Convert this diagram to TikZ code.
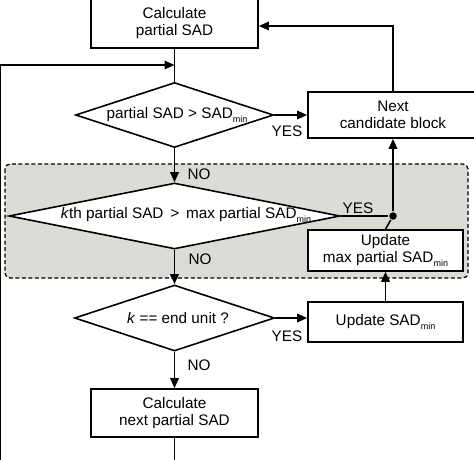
\documentclass[tikz,border=0pt]{standalone}
\usepackage{fontspec}
\setmainfont{Liberation Sans}
\usetikzlibrary{shapes.geometric,arrows.meta,calc}
\definecolor{grayfill}{HTML}{DCDCD7}
\newcommand\fs{\fontsize{15.3}{17}\selectfont}
\newcommand\sbm[1]{\raisebox{-0.45ex}{\fontsize{9}{9}\selectfont #1}}
\begin{document}
\begin{tikzpicture}[x=1pt,y=-1pt,line width=1.6pt,
  box/.style={draw,fill=white,rectangle,inner sep=0pt,align=center,font=\fs},
  dec/.style={draw,fill=white,diamond,inner sep=0pt},
  txt/.style={font=\fs,inner sep=0pt,align=center},
  lab/.style={font=\fs,inner sep=0pt},
  arr/.style={-{Triangle[length=10pt,width=8.5pt]}},
  group/.style={draw,fill=grayfill,dash pattern=on 4pt off 2.5pt,rounded corners=5pt,line width=1.3pt}]
\useasboundingbox (0,0) rectangle (474,460);
\draw[group] (5,164) rectangle (468,278);
% boxes
\node[box,minimum width=167pt,minimum height=50pt] (calc) at (174.5,23) {Calculate\\partial SAD};
\node[box,minimum width=170pt,minimum height=46pt] (next) at (393,115) {Next\\candidate block};
\node[box,minimum width=155pt,minimum height=41pt] (umax) at (385.5,250.5) {Update\\max partial SAD\sbm{min}};
\node[box,minimum width=155pt,minimum height=40pt] (umin) at (385.5,322) {Update SAD\sbm{min}};
\node[box,minimum width=167pt,minimum height=48pt] (calcn) at (174.5,413) {Calculate\\next partial SAD};
% decisions
\node[dec,minimum width=198pt,minimum height=65pt] (d1) at (174.5,115) {};
\node[txt] (t1) at (177,115) {partial SAD > SAD\sbm{min}};
\node[dec,minimum width=331pt,minimum height=66pt] (d2) at (174.5,216) {};
\node[txt] (t2) at (186,215) {\textit{k}th partial SAD\, > \,max partial SAD\sbm{min}};
\node[dec,minimum width=200pt,minimum height=66pt] (d3) at (174.5,318) {};
\node[txt] (t3) at (178,318) {\textit{k} == end unit ?};
% junctions
\node[circle,fill,inner sep=0pt,minimum size=7.5pt] (dot) at (393,216) {};
\coordinate (j1) at (174.5,65);
\coordinate (lb) at (0,480);
\coordinate (lt) at (0,65);
\coordinate (tr) at (393,26);
% connectors
\draw (calc.south) -- (d1.north);
\draw[arr] (calcn.south) |- (lb) -- (lt) -- (j1);
\draw[arr] (d1.east) -- (next.west);
\draw[arr] (d1.south) -- (d2.north);
\draw (d2.east) -- (dot);
\draw[arr] (dot) -- (next.south);
\draw (dot) -- (umax.north);
\draw[arr] (umin.north) -- (umax.south);
\draw[arr] (d2.south) -- (d3.north);
\draw[arr] (d3.east) -- (d3.east -| umin.west);
\draw[arr] (d3.south) -- (calcn.north);
\draw[arr] (next.north) -- (tr) -- (tr -| calc.east);
% labels
\node[lab] (y1) at (287,131) {YES};
\node[lab] (n1) at (199,174) {NO};
\node[lab] (y2) at (358,208) {YES};
\node[lab] (n2) at (200,259) {NO};
\node[lab] (y3) at (287,336) {YES};
\node[lab] (n3) at (199,365) {NO};
\end{tikzpicture}
\end{document}
